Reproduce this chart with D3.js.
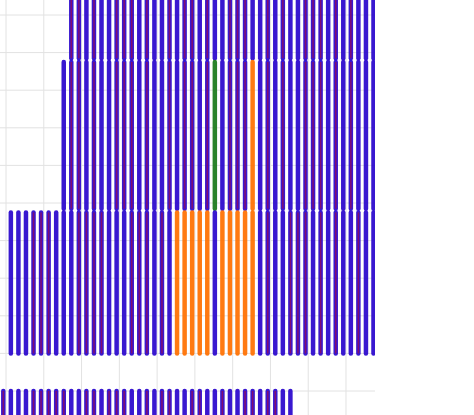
<!DOCTYPE html>
<html>
<head>
<meta charset="utf-8">
<script src="https://cdn.jsdelivr.net/npm/d3@7"></script>
<style>
  body { margin: 0; background: #fff; }
</style>
</head>
<body>
<div id="chart"></div>
<script>
// one bar per column, four stacked rows of spans
var rowStart  = [9, 8, 1, 0];
var rowEnd    = [49, 49, 49, 38];
var rowTop    = [-1, 1.25, 5.25, 10];
var rowBottom = [1.15, 5.15, 9, 12];
// b = blue, p = blue with red core, o = orange, g = green
var rowColors = [
    "bpbbppbpbppbpbbpppbpbbpbppbpbbpppbbpbpbbpppbpbpbbb",
    "bpbbppbpbppbpbbpppbpbbpbppbpgbpppobpbpbbpppbpbpbbb",
    "bbbbpppbbbppppbbbpppbpbooooobooooobpbbpppbpbpbbpbb",
    "pbbbpppppbbppbpppbbpbppbbppbbpbbppbppbbbpppbpbpbbb"
];
var xGrid = [0, 5, 10, 15, 20, 25, 30, 35, 40, 45];
var yGrid = [0, 1, 2, 3, 4, 5, 6, 7, 8, 9, 10];

var width = 474, height = 415, plotRight = 375;

var svg = d3.select("#chart")
    .append("svg")
    .attr("width", width)
    .attr("height", height);

var x = d3.scaleLinear().domain([0, 49]).range([3.3, 373.5]);
var y = d3.scaleLinear().domain([0, 10]).range([15, 391]);

svg.append("defs").append("clipPath")
    .attr("id", "clip")
    .append("rect")
    .attr("x", -10).attr("y", -10)
    .attr("width", plotRight + 10)
    .attr("height", height + 20);

var plot = svg.append("g").attr("clip-path", "url(#clip)");

plot.selectAll(".vgrid")
    .data(xGrid)
    .enter().append("line")
    .attr("class", "vgrid")
    .attr("x1", d => x(d + 0.36)).attr("x2", d => x(d + 0.36))
    .attr("y1", 0).attr("y2", height)
    .attr("stroke", "#e2e2e2");

plot.selectAll(".hgrid")
    .data(yGrid)
    .enter().append("line")
    .attr("class", "hgrid")
    .attr("x1", 0).attr("x2", plotRight)
    .attr("y1", d => y(d)).attr("y2", d => y(d))
    .attr("stroke", "#e2e2e2");

var colorMap = { b: "#2a06cc", p: "#2a06cc", o: "#ff7000", g: "#1a7a1a" };

var bars = [];
rowColors.forEach(function (codes, r) {
    for (var c = rowStart[r]; c <= rowEnd[r]; c++) {
        bars.push({ col: c, y0: rowTop[r], y1: rowBottom[r], code: codes[c] });
    }
});

plot.selectAll(".bar")
    .data(bars)
    .enter().append("line")
    .attr("class", "bar")
    .attr("x1", d => x(d.col)).attr("x2", d => x(d.col))
    .attr("y1", d => y(d.y0)).attr("y2", d => y(d.y1))
    .attr("stroke", d => colorMap[d.code])
    .attr("stroke-opacity", 0.93)
    .attr("stroke-width", 4.5)
    .attr("stroke-linecap", "round");

// red core on some blue bars
plot.selectAll(".core")
    .data(bars.filter(d => d.code === "p"))
    .enter().append("line")
    .attr("class", "core")
    .attr("x1", d => x(d.col)).attr("x2", d => x(d.col))
    .attr("y1", d => y(d.y0)).attr("y2", d => y(d.y1))
    .attr("stroke", "#a0084a")
    .attr("stroke-opacity", 0.7)
    .attr("stroke-width", 1.5);
</script>
</body>
</html>
